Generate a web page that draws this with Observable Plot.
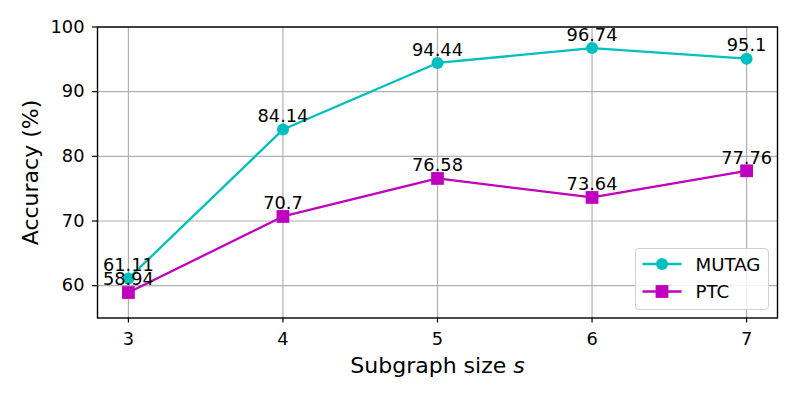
<!DOCTYPE html>
<html>
<head>
<meta charset="utf-8">
<script src="https://cdn.jsdelivr.net/npm/d3@7"></script>
<script src="https://cdn.jsdelivr.net/npm/@observablehq/plot@0.6"></script>
<style>
  html, body { margin: 0; padding: 0; background: white; }
  #wrap { position: relative; width: 797px; height: 399px; font-family: "DejaVu Sans", sans-serif; }
  #legend { position: absolute; left: 635px; top: 248px; width: 132px; height: 60px;
    border: 1px solid #d0d0d0; border-radius: 4px; background: rgba(255,255,255,0.85); }
  #legend svg { position: absolute; left: 0; top: 0; }
</style>
</head>
<body>
<div id="wrap"></div>
<script>
const sizes = [3, 4, 5, 6, 7];
const mutag = [61.11, 84.14, 94.44, 96.74, 95.1];
const ptc = [58.94, 70.7, 76.58, 73.64, 77.76];
const xTicks = [3, 4, 5, 6, 7];
const yTicks = [60, 70, 80, 90, 100];
const seriesNames = ["MUTAG", "PTC"];
const seriesColors = ["#00bfbf", "#bf00bf"];

const dM = sizes.map((s, i) => ({s, v: mutag[i], label: String(mutag[i])}));
const dP = sizes.map((s, i) => ({s, v: ptc[i], label: String(ptc[i])}));

const fs = "17.8px";
const chart = Plot.plot({
  width: 797, height: 399,
  marginLeft: 97, marginRight: 20, marginTop: 26.5, marginBottom: 81.5,
  x: {domain: [2.8, 7.2]},
  y: {domain: [55, 100]},
  style: {fontFamily: "DejaVu Sans", fontSize: fs, background: "white", color: "black"},
  marks: [
    Plot.gridX(xTicks, {stroke: "#b0b0b0", strokeOpacity: 1, strokeWidth: 1.2}),
    Plot.gridY(yTicks, {stroke: "#b0b0b0", strokeOpacity: 1, strokeWidth: 1.2}),
    Plot.line(dM, {x: "s", y: "v", stroke: seriesColors[0], strokeWidth: 2.3}),
    Plot.line(dP, {x: "s", y: "v", stroke: seriesColors[1], strokeWidth: 2.3}),
    Plot.dot(dM, {x: "s", y: "v", r: 6, fill: seriesColors[0], stroke: "none"}),
    Plot.dot(dP, {x: "s", y: "v", symbol: "square", r: 7.2, fill: seriesColors[1], stroke: "none"}),
    Plot.text(dM, {x: "s", y: "v", text: "label", dy: -13, fontSize: 17.8, fill: "black"}),
    Plot.text(dP, {x: "s", y: "v", text: "label", dy: -13, fontSize: 17.8, fill: "black"}),
    Plot.frame({stroke: "black", strokeWidth: 1.4}),
    Plot.axisX(xTicks, {tickSize: 5, tickPadding: 9.5, label: null, tickFormat: d => d, fontSize: 17.8, strokeWidth: 1.2}),
    Plot.axisY(yTicks, {tickSize: 5, tickPadding: 8, label: null, tickFormat: d => d, fontSize: 17.8, strokeWidth: 1.2}),
    Plot.text(["Accuracy (%)"], {frameAnchor: "left", rotate: -90, dx: -67, fontSize: 22, textAnchor: "middle", lineAnchor: "middle", fill: "black"}),
    Plot.text(["Subgraph size "], {frameAnchor: "bottom", dy: 48, fontSize: 22, textAnchor: "middle", lineAnchor: "middle", fill: "black", className: "xlabel"})
  ]
});
document.getElementById("wrap").appendChild(chart);

// italic "s" in the x label
d3.select(chart).selectAll("g.xlabel text").each(function() {
  const t = d3.select(this);
  const base = t.text();
  t.text(base);
  t.append("tspan").attr("font-style", "italic").text("s");
});

// legend
const leg = document.createElement("div");
leg.id = "legend";
const lsvg = d3.create("svg").attr("width", 132).attr("height", 60);
seriesNames.forEach((name, i) => {
  const cy = i === 0 ? 15 : 42.5;
  lsvg.append("line").attr("x1", 6.5).attr("x2", 45.5).attr("y1", cy).attr("y2", cy)
    .attr("stroke", seriesColors[i]).attr("stroke-width", 2.3);
  if (i === 0) lsvg.append("circle").attr("cx", 26).attr("cy", cy).attr("r", 6).attr("fill", seriesColors[i]);
  else lsvg.append("rect").attr("x", 26 - 6.4).attr("y", cy - 6.4).attr("width", 12.8).attr("height", 12.8).attr("fill", seriesColors[i]);
  lsvg.append("text").attr("x", 59.5).attr("y", cy).attr("dy", "0.36em")
    .attr("font-family", "DejaVu Sans").attr("font-size", 18.2).attr("fill", "black").text(name);
});
leg.appendChild(lsvg.node());
document.getElementById("wrap").appendChild(leg);
</script>
</body>
</html>
